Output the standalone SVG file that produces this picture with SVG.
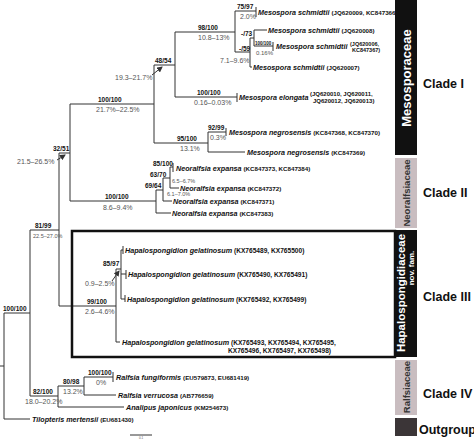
<svg xmlns="http://www.w3.org/2000/svg" width="474" height="440" viewBox="0 0 474 440">
<style>
.br{stroke:#333;stroke-width:1;fill:none}
.tx{font-family:"Liberation Sans",Arial,sans-serif;font-weight:bold;font-style:italic;font-size:7.2px;fill:#111}
.ac{font-style:normal;font-size:6.2px}
.sp{font-family:"Liberation Sans",Arial,sans-serif;font-weight:bold;font-size:6.5px;fill:#111}
.pc{font-family:"Liberation Sans",Arial,sans-serif;font-size:7px;fill:#555}
.cl{font-family:"Liberation Sans",Arial,sans-serif;font-weight:bold;font-size:12.5px;fill:#111}
.bw{font-family:"Liberation Sans",Arial,sans-serif;font-weight:bold;fill:#fff}
.bd{font-family:"Liberation Sans",Arial,sans-serif;font-weight:bold;fill:#333}
</style>
<defs>
<marker id="ah" markerWidth="6" markerHeight="6" refX="5" refY="3" orient="auto" markerUnits="userSpaceOnUse"><path d="M0,0L6,3L0,6z" fill="#333"/></marker>
</defs>
<g id="connectors" class="br">
<path d="M0,366H4M4,313V419M4,313H30M4,419H30"/>
<path d="M30,230V396M30,230H59M30,396H58"/>
<path d="M59,153V306M59,153H70M59,306H116"/>
<path d="M70,104V201M70,104H154M70,201H156"/>
<path d="M154,65V143M154,65H175M154,143H208"/>
<path d="M175,32V97M175,32H235M175,97H237M237,93V102"/>
<path d="M235,11V52M235,11H256M256,7V17M235,52H250"/>
<path d="M250,38V67M250,38H254M250,67H252"/>
<path d="M254,30V46M254,30H267M254,46H273M273,42V51"/>
<path d="M208,132V152M208,132H226M226,128V136M208,152H245"/>
<path d="M156,190V213M156,190H163M156,213H171"/>
<path d="M163,178V201M163,178H170M163,201H172"/>
<path d="M170,167V188M170,167H173M173,163V172M170,188H179"/>
<path d="M116,269V342M116,269H121M116,342H120"/>
<path d="M121,250V299M121,250H123M123,246V254M121,274H126M126,270V279M121,299H125M125,295V302"/>
<path d="M58,386V407M58,386H84M58,407H124"/>
<path d="M84,377V395M84,377H113M113,372V382M84,395H116"/>
<path d="M152,75L162,67" marker-end="url(#ah)"/>
<path d="M57,160L65,155" marker-end="url(#ah)"/>
<path d="M112,281L119,271" marker-end="url(#ah)"/>
<path d="M130,435H152"/>
</g>
<g id="box"><rect x="72" y="231" width="323" height="126" fill="none" stroke="#111" stroke-width="2.5"/></g>

<g id="leaf-ms1"><text class="tx" x="258" y="15">Mesospora schmidtii <tspan class="ac">(JQ620009, KC847366)</tspan></text></g>
<g id="leaf-ms2"><text class="tx" x="268" y="32.5">Mesospora schmidtii <tspan class="ac">(JQ620008)</tspan></text></g>
<g id="leaf-ms3"><text class="tx" x="276" y="49">Mesospora schmidtii</text><text class="sp" style="font-size:5.5px" x="350" y="46">(JQ620006,</text><text class="sp" style="font-size:5.5px" x="352" y="52">KC847367)</text></g>
<g id="leaf-ms4"><text class="tx" x="253" y="69.5">Mesospora schmidtii <tspan class="ac">(JQ620007)</tspan></text></g>
<g id="leaf-me"><text class="tx" x="239" y="99.5">Mesospora elongata</text><text class="sp" style="font-size:6px" x="310" y="96">(JQ620010, JQ620011,</text><text class="sp" style="font-size:6px" x="313" y="103">JQ620012, JQ620013)</text></g>
<g id="leaf-mn1"><text class="tx" x="229" y="134.5">Mesospora negrosensis <tspan class="ac">(KC847368, KC847370)</tspan></text></g>
<g id="leaf-mn2"><text class="tx" x="247" y="154.5">Mesospora negrosensis <tspan class="ac">(KC847369)</tspan></text></g>
<g id="leaf-ne1"><text class="tx" x="176" y="170.5">Neoralfsia expansa <tspan class="ac">(KC847373, KC847384)</tspan></text></g>
<g id="leaf-ne2"><text class="tx" x="180" y="190.5">Neoralfsia expansa <tspan class="ac">(KC847372)</tspan></text></g>
<g id="leaf-ne3"><text class="tx" x="173" y="203.5">Neoralfsia expansa <tspan class="ac">(KC847371)</tspan></text></g>
<g id="leaf-ne4"><text class="tx" x="172" y="215.5">Neoralfsia expansa <tspan class="ac">(KC847383)</tspan></text></g>
<g id="leaf-hg1"><text class="tx" x="125" y="252.5">Hapalospongidion gelatinosum <tspan class="ac" style="font-size:6.6px">(KX765489, KX765500)</tspan></text></g>
<g id="leaf-hg2"><text class="tx" x="128" y="276.5">Hapalospongidion gelatinosum <tspan class="ac" style="font-size:6.6px">(KX765490, KX765491)</tspan></text></g>
<g id="leaf-hg3"><text class="tx" x="127" y="301.5">Hapalospongidion gelatinosum <tspan class="ac" style="font-size:6.6px">(KX765492, KX765499)</tspan></text></g>
<g id="leaf-hg4"><text class="tx" x="122" y="344.5">Hapalospongidion gelatinosum <tspan class="ac" style="font-size:6.6px">(KX765493, KX765494, KX765495,</tspan></text><text class="sp" style="font-size:6.6px" x="228" y="353">KX765496, KX765497, KX765498)</text></g>
<g id="leaf-rf"><text class="tx" x="116" y="380">Ralfsia fungiformis <tspan class="ac">(EU579873, EU681419)</tspan></text></g>
<g id="leaf-rv"><text class="tx" x="118" y="397.5">Ralfsia verrucosa <tspan class="ac">(AB776659)</tspan></text></g>
<g id="leaf-aj"><text class="tx" x="126" y="409.5">Analipus japonicus <tspan class="ac">(KM254673)</tspan></text></g>
<g id="leaf-tm"><text class="tx" x="32" y="421.5">Tilopteris mertensii <tspan class="ac">(EU681430)</tspan></text></g>

<g id="labels">
<text class="sp" x="237" y="9">75/97</text><text class="pc" x="240" y="18.5">2.0%</text>
<text class="sp" x="198" y="30">98/100</text><text class="pc" x="198" y="39.5">10.8–13%</text>
<text class="sp" x="241" y="36">-/73</text>
<text class="sp" style="font-size:4.5px" x="255" y="45">100/100</text><text class="pc" style="font-size:6px" x="256" y="55">0.16%</text>
<text class="sp" x="239" y="51">-/59</text>
<text class="pc" x="220" y="62.5">7.1–9.6%</text>
<text class="sp" x="155" y="63">48/54</text>
<text class="pc" x="115" y="80">19.3–21.7%</text>
<text class="sp" x="197" y="95">100/100</text><text class="pc" x="194" y="104.5">0.16–0.03%</text>
<text class="sp" x="98" y="102">100/100</text><text class="pc" x="96" y="111.5">21.7%–22.5%</text>
<text class="sp" x="208" y="130">92/99</text><text class="pc" x="210" y="139.5">0.3%</text>
<text class="sp" x="177" y="141">95/100</text><text class="pc" x="180" y="150.5">13.1%</text>
<text class="sp" x="53" y="151">32/51</text><text class="pc" x="17" y="164">21.5–26.5%</text>
<text class="sp" x="153" y="166">85/100</text>
<text class="sp" x="150" y="177">63/70</text><text class="pc" style="font-size:5.5px" x="172" y="183">6.5–6.7%</text>
<text class="sp" x="145" y="188">69/64</text><text class="pc" style="font-size:5.5px" x="167" y="196">6.1–7.0%</text>
<text class="sp" x="105" y="199">100/100</text><text class="pc" x="103" y="209.5">8.6–9.4%</text>
<text class="sp" x="35" y="228">81/99</text><text class="pc" style="font-size:5.5px" x="33" y="238">22.5–27.0%</text>
<text class="sp" x="103" y="266">85/97</text><text class="pc" x="85" y="286">0.9–2.5%</text>
<text class="sp" x="87" y="304">99/100</text><text class="pc" x="85" y="313.5">2.6–4.6%</text>
<text class="sp" x="3" y="311">100/100</text>
<text class="sp" x="88" y="375">100/100</text><text class="pc" x="96" y="384.5">0%</text>
<text class="sp" x="63" y="384">80/98</text><text class="pc" x="63" y="393.5">13.2%</text>
<text class="sp" x="33" y="394">82/100</text><text class="pc" x="25" y="403.5">18.0–20.2%</text>
<text class="pc" style="font-size:3px" x="139" y="439">0.1</text>
</g>

<g id="bar-meso"><rect x="395" y="0" width="22" height="155" fill="#111"/><text class="bw" font-size="13" transform="translate(411,78) rotate(-90)" text-anchor="middle">Mesosporaceae</text></g>
<g id="bar-neo"><rect x="395" y="158" width="22" height="70" fill="#c9bdc0"/><text class="bd" font-size="9.5" transform="translate(409.5,193) rotate(-90)" text-anchor="middle">Neoralfsiaceae</text></g>
<g id="bar-hapa"><rect x="395" y="230" width="22" height="127" fill="#111"/><text class="bw" font-size="11.5" transform="translate(405,293) rotate(-90)" text-anchor="middle">Hapalospongidiaceae</text><text class="bw" font-size="8" transform="translate(414,268) rotate(-90)" text-anchor="middle">nov. fam.</text></g>
<g id="bar-ralf"><rect x="395" y="360" width="22" height="55" fill="#c9bdc0"/><text class="bd" font-size="9.5" transform="translate(409.5,387) rotate(-90)" text-anchor="middle">Ralfsiaceae</text></g>
<g id="bar-out"><rect x="395" y="418" width="22" height="18" fill="#3b3537"/></g>
<g id="clades">
<text class="cl" x="423" y="88">Clade I</text>
<text class="cl" x="423" y="197">Clade II</text>
<text class="cl" x="423" y="301">Clade III</text>
<text class="cl" x="423" y="398">Clade IV</text>
<text class="cl" x="419" y="434">Outgroup</text>
</g>
</svg>
